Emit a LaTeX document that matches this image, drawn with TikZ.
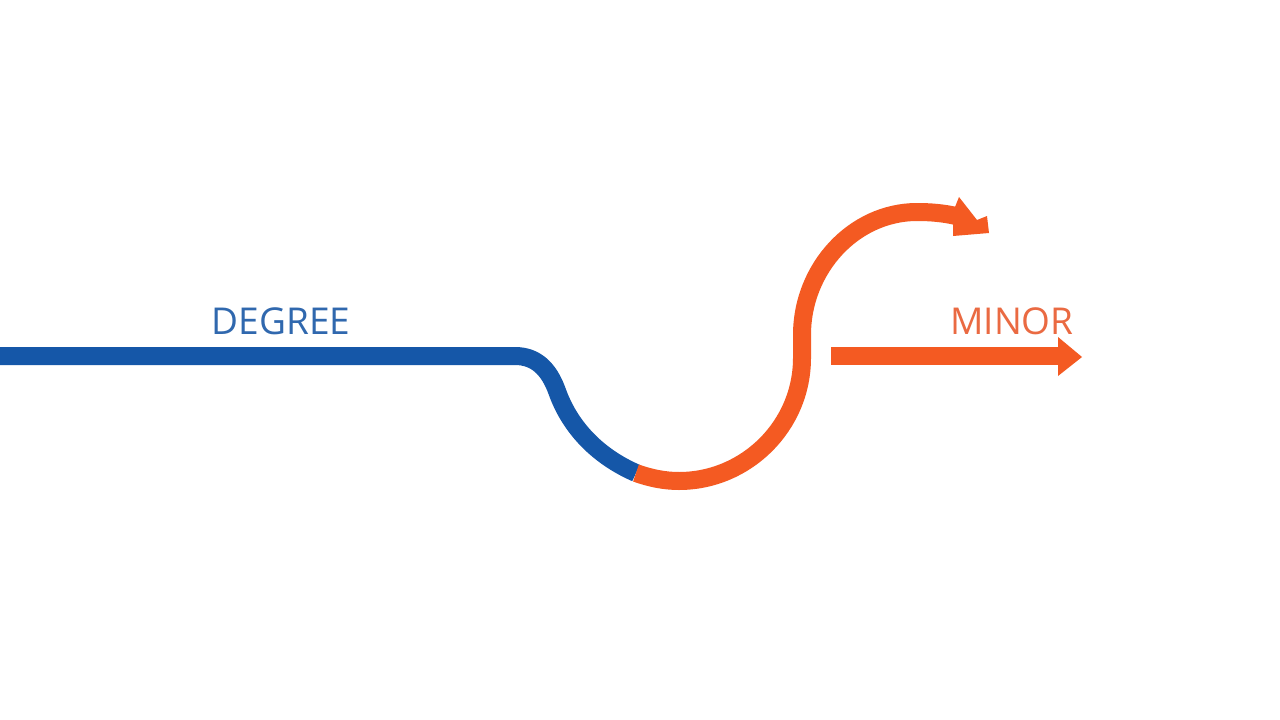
\documentclass[tikz,border=0pt]{standalone}
\usepackage{fontspec}
\setmainfont{Open Sans}
\definecolor{degblue}{HTML}{1557A8}
\definecolor{minorange}{HTML}{F45A22}
\definecolor{degtext}{HTML}{3068AE}
\definecolor{mintext}{HTML}{EA6A42}
\tikzset{
  band/.style={line width=18pt,line cap=butt,line join=round},
  bluebar/.style={band,draw=degblue},
  orangebar/.style={band,draw=minorange},
  lab/.style={inner sep=0pt,anchor=base,font=\fontsize{37}{37}\selectfont}
}
\begin{document}
\begin{tikzpicture}[x=1pt,y=-1pt]
\useasboundingbox (0,0) rectangle (1280,720);
\fill[white] (0,0) rectangle (1280,720);
\coordinate (start) at (0,356);
\coordinate (bend) at (515,356);
\coordinate (join) at (636,473);
\coordinate (turn) at (802,335);
\coordinate (headbase) at (956,216);
% blue part
\draw[bluebar] (start) -- (bend)
  .. controls (536,356) and (549,369) .. (557,391)
  .. controls (569,425) and (595,455) .. (join);
% orange part
\draw[orangebar] (join)
  .. controls (650,478) and (664,481) .. (679,481)
  .. controls (746,481) and (802,426) .. (802,358)
  -- (turn)
  .. controls (802,268) and (854,212) .. (917,212)
  .. controls (930,212) and (943,213) .. (headbase);
% curved arrowhead
\fill[minorange] (955,207) -- (959,197) -- (977,220) -- (987,216) -- (989,233) -- (953,236) -- (953,225) -- cycle;
% straight arrow
\coordinate (shaftstart) at (831,356);
\coordinate (shaftend) at (1059,356);
\draw[orangebar] (shaftstart) -- (shaftend);
\fill[minorange] (1058,337) -- (1082,357) -- (1058,376) -- cycle;
% labels
\node[lab,text=degtext] (deg) at (281,334) {DEGREE};
\node[lab,text=mintext] (min) at (1012,334) {MINOR};
\end{tikzpicture}
\end{document}
